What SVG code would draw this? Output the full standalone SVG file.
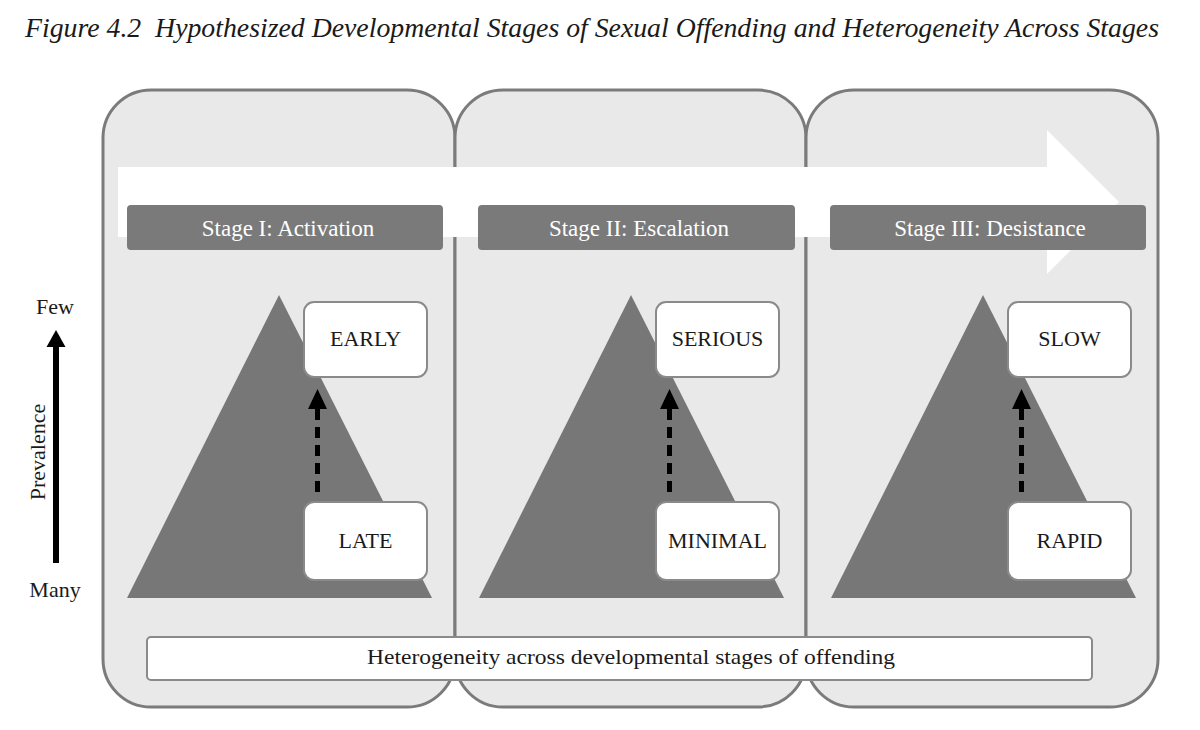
<svg xmlns="http://www.w3.org/2000/svg" width="1200" height="730" viewBox="0 0 1200 730">
<style>
.panel{fill:#e9e9e9;stroke:#7b7b7b;stroke-width:3}
.hdr{fill:#7a7a7a}
.hdrt{font-family:"Liberation Serif","Times New Roman",serif;font-size:23px;fill:#ffffff;text-anchor:middle}
.tri{fill:#777777}
.box{fill:#ffffff;stroke:#8a8a8a;stroke-width:2}
.lbl{font-family:"Liberation Serif","Times New Roman",serif;font-size:22px;fill:#1a1a1a;text-anchor:middle}
.dash{stroke:#000;stroke-width:5;stroke-dasharray:11 7;fill:none}
</style>
<rect width="1200" height="730" fill="#ffffff"/>
<text x="25" y="37" font-family="'Liberation Serif','Times New Roman',serif" font-style="italic" font-size="28" fill="#1a1a1a" textLength="1134" lengthAdjust="spacingAndGlyphs" xml:space="preserve">Figure 4.2  Hypothesized Developmental Stages of Sexual Offending and Heterogeneity Across Stages</text>

<g id="panels">
<rect class="panel" x="103" y="90" width="352" height="617" rx="48" ry="48"/>
<rect class="panel" x="455" y="90" width="351" height="617" rx="48" ry="48"/>
<rect class="panel" x="806" y="90" width="352" height="617" rx="48" ry="48"/>
</g>

<g id="progress-arrow">
<polygon fill="#ffffff" points="118,167 1047,167 1047,130 1119,202 1047,274 1047,237 118,237"/>
</g>

<g id="stage1">
<rect class="hdr" x="127" y="205" width="316" height="45" rx="4"/>
<text class="hdrt" x="288" y="236">Stage I: Activation</text>
<polygon class="tri" points="279,295 127,598 432,598"/>
</g>
<g id="stage2">
<rect class="hdr" x="478" y="205" width="317" height="45" rx="4"/>
<text class="hdrt" x="639" y="236">Stage II: Escalation</text>
<polygon class="tri" points="631,295 479,598 784,598"/>
</g>
<g id="stage3">
<rect class="hdr" x="830" y="205" width="316" height="45" rx="4"/>
<text class="hdrt" x="990" y="236">Stage III: Desistance</text>
<polygon class="tri" points="983,295 831,598 1136,598"/>
</g>

<g id="connectors">
<line class="dash" x1="317.5" y1="492" x2="317.5" y2="408"/>
<polygon points="308,409 327,409 317.5,389" fill="#000"/>
<line class="dash" x1="669.5" y1="492" x2="669.5" y2="408"/>
<polygon points="660,409 679,409 669.5,389" fill="#000"/>
<line class="dash" x1="1021.5" y1="492" x2="1021.5" y2="408"/>
<polygon points="1012,409 1031,409 1021.5,389" fill="#000"/>
</g>

<g id="early">
<rect class="box" x="304" y="302" width="123" height="75" rx="10"/>
<text class="lbl" x="365.5" y="346">EARLY</text>
</g>
<g id="late">
<rect class="box" x="304" y="502" width="123" height="78" rx="10"/>
<text class="lbl" x="365.5" y="548">LATE</text>
</g>
<g id="serious">
<rect class="box" x="656" y="302" width="123" height="75" rx="10"/>
<text class="lbl" x="717.5" y="346">SERIOUS</text>
</g>
<g id="minimal">
<rect class="box" x="656" y="502" width="123" height="78" rx="10"/>
<text class="lbl" x="717.5" y="548">MINIMAL</text>
</g>
<g id="slow">
<rect class="box" x="1008" y="302" width="123" height="75" rx="10"/>
<text class="lbl" x="1069.5" y="346">SLOW</text>
</g>
<g id="rapid">
<rect class="box" x="1008" y="502" width="123" height="78" rx="10"/>
<text class="lbl" x="1069.5" y="548">RAPID</text>
</g>

<g id="heterogeneity">
<rect class="box" x="147" y="637" width="945" height="43" rx="4"/>
<text class="lbl" x="631" y="664" textLength="528" lengthAdjust="spacingAndGlyphs">Heterogeneity across developmental stages of offending</text>
</g>

<g id="prevalence-axis">
<text class="lbl" x="55" y="314">Few</text>
<rect x="53" y="345" width="6" height="218" fill="#000"/>
<polygon points="46.5,347 65.5,347 56,330" fill="#000"/>
<text class="lbl" transform="translate(45,452) rotate(-90)" x="0" y="0" font-size="23">Prevalence</text>
<text class="lbl" x="55" y="597">Many</text>
</g>
</svg>
